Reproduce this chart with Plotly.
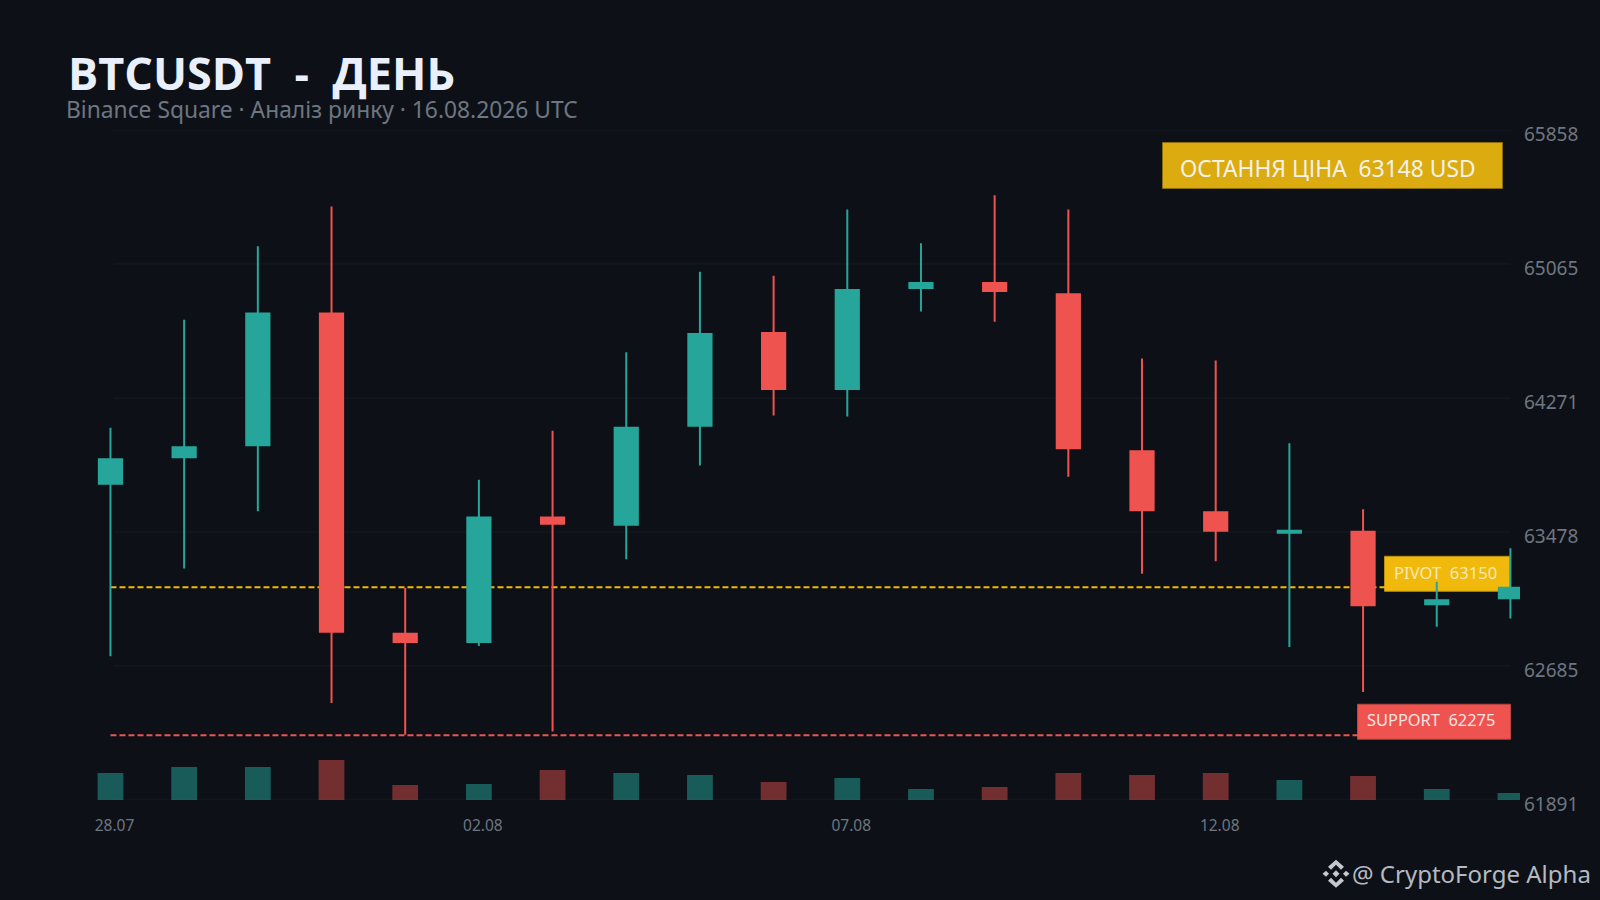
import plotly.graph_objects as go

# daily candles
dates = ["2026-07-28", "2026-07-29", "2026-07-30", "2026-07-31", "2026-08-01",
         "2026-08-02", "2026-08-03", "2026-08-04", "2026-08-05", "2026-08-06",
         "2026-08-07", "2026-08-08", "2026-08-09", "2026-08-10", "2026-08-11",
         "2026-08-12", "2026-08-13", "2026-08-14", "2026-08-15", "2026-08-16"]
opens = [63763, 63920, 63992, 64771, 62875, 62827, 63564, 63521, 64107, 64656,
         64324, 64922, 64952, 64886, 63956, 63594, 63473, 63479, 63050, 63086]
highs = [64095, 64735, 65170, 65405, 63147, 63787, 64077, 64542, 65019, 64995,
         65387, 65188, 65471, 65387, 64505, 64493, 64004, 63612, 63183, 63382]
lows = [62742, 63262, 63600, 62465, 62277, 62803, 62296, 63316, 63871, 64167,
        64161, 64783, 64723, 63805, 63231, 63304, 62797, 62531, 62917, 62966]
closes = [63908, 63980, 64771, 62887, 62827, 63564, 63527, 64095, 64650, 64324,
          64910, 64952, 64904, 63974, 63606, 63485, 63485, 63044, 63074, 63148]
volumes = [27, 33, 33, 40, 15, 16, 30, 27, 25, 18, 22, 11, 13, 27, 25, 27, 20, 24, 11, 7]

y_ticks = [61891, 62685, 63478, 64271, 65065, 65858]
x_ticks = ["2026-07-28", "2026-08-02", "2026-08-07", "2026-08-12"]
x_labels = ["28.07", "02.08", "07.08", "12.08"]
pivot = 63150
support = 62275

W, H = 1600, 900
L, R, T, B = 60, 1520, 130, 800.3
BG = "#0d1117"
UP = "#26a69a"
DOWN = "#ef5350"
YELLOW = "#f0b90b"
FONT = "Noto Sans"


def px(x):
    return (x - L) / (R - L)


def py(y):
    return (B - y) / (B - T)


def box(x0, x1, y0, y1, fill, line):
    return dict(type="rect", xref="paper", yref="paper", layer="below",
                x0=px(x0), x1=px(x1), y0=py(y1), y1=py(y0),
                fillcolor=fill, line=dict(color=line, width=1))


def label(x, y, text, size, color, weight="normal", anchor="left", family=FONT):
    return dict(xref="paper", yref="paper", x=px(x), y=py(y), text=text,
                showarrow=False, xanchor=anchor, yanchor="middle",
                font=dict(family=family, size=size, color=color, weight=weight))


def poly(points):
    return "M" + " L".join(f"{px(1336 + a)} {py(874 + b)}" for a, b in points) + " Z"


bar_colors = ["rgba(38,166,154,0.5)" if c >= o else "rgba(239,83,80,0.45)"
              for o, c in zip(opens, closes)]

fig = go.Figure()
fig.add_trace(go.Bar(x=dates, y=volumes, yaxis="y2", width=0.35 * 86400000,
                     marker=dict(color=bar_colors, line=dict(width=0))))
fig.add_trace(go.Candlestick(
    x=dates, open=opens, high=highs, low=lows, close=closes,
    increasing=dict(line=dict(color=UP, width=2), fillcolor=UP),
    decreasing=dict(line=dict(color=DOWN, width=2), fillcolor=DOWN),
    whiskerwidth=0))

shapes = []
for v in y_ticks:
    shapes.append(dict(type="line", xref="paper", yref="y", layer="below",
                       x0=px(114), x1=px(1510), y0=v, y1=v,
                       line=dict(color="#161b22", width=1)))
shapes.append(dict(type="line", xref="x", yref="y", layer="below", x0=dates[0], x1=dates[-1],
                   y0=pivot, y1=pivot, line=dict(color=YELLOW, width=2, dash="6px,3px")))
shapes.append(dict(type="line", xref="x", yref="y", layer="below", x0=dates[0], x1=dates[-1],
                   y0=support, y1=support, line=dict(color=DOWN, width=2, dash="6px,3px")))
shapes.append(box(1162.5, 1502.5, 142.5, 188.5, "#dcab0f", "#8a6d10"))
shapes.append(box(1384.5, 1510, 556.5, 591.5, YELLOW, "#b88f10"))
shapes.append(box(1357.5, 1510.5, 704.5, 739.5, DOWN, "#b84340"))

# binance mark next to the watermark
logo = [[(-5, -4), (0, -9), (5, -4), (8, -7), (0, -14), (-8, -7)],
        [(-5, 4), (0, 9), (5, 4), (8, 7), (0, 14), (-8, 7)],
        [(0, -3.5), (3.5, 0), (0, 3.5), (-3.5, 0)],
        [(-10, -3), (-7, 0), (-10, 3), (-13.5, 0)],
        [(10, -3), (13.5, 0), (10, 3), (7, 0)]]
for part in logo:
    shapes.append(dict(type="path", xref="paper", yref="paper", path=poly(part),
                       fillcolor="#c4c8cf", line=dict(width=0)))

annotations = [
    label(66, 72, "BTCUSDT  -  ДЕНЬ", 45, "#eaf0fb", "bold", family="Open Sans"),
    label(63.5, 109, "Binance Square · Аналіз ринку · 16.08.2026 UTC", 22.8, "#6e7681"),
    label(1178, 169, "ОСТАННЯ ЦІНА  63148 USD", 22.8, "#f2f2ea"),
    label(1392, 572.5, f"PIVOT  {pivot}", 16.6, "#f5e9b8"),
    label(1365, 720, f"SUPPORT  {support}", 16.4, "#f7e4e3"),
    label(1593, 874, "@ CryptoForge Alpha", 24, "#b5bac2", anchor="right"),
]

fig.update_layout(
    width=W, height=H, autosize=False,
    margin=dict(l=L, r=W - R, t=T, b=H - B, pad=0),
    paper_bgcolor=BG, plot_bgcolor=BG,
    showlegend=False, boxgap=0.55,
    font=dict(family=FONT, color="#6e7681"),
    shapes=shapes, annotations=annotations,
    xaxis=dict(type="date", range=["2026-07-27 07:33:36", "2026-08-16 03:07:00"],
               tickmode="array", tickvals=x_ticks, ticktext=x_labels,
               tickfont=dict(size=15.5, color="#6e7681"), ticklabelshift=4,
               ticklabelstandoff=14, ticks="", showgrid=False, zeroline=False,
               showline=False, rangeslider=dict(visible=False)),
    yaxis=dict(range=[61891, 65858], side="right", tickmode="array", tickvals=y_ticks,
               ticktext=[str(v) for v in y_ticks], tickfont=dict(size=19, color="#6e7681"),
               ticklabelshift=4, ticklabelstandoff=3, ticks="", showgrid=False,
               zeroline=False, showline=False),
    yaxis2=dict(range=[0, 670], overlaying="y", visible=False),
)

fig.write_html("out.html", config=dict(displayModeBar=False),
               post_script="document.body.style.margin='0';document.body.style.background='#0d1117';")
